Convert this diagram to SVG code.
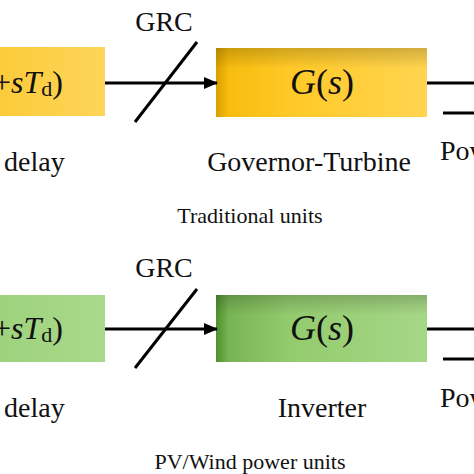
<svg xmlns="http://www.w3.org/2000/svg" width="474" height="474" viewBox="0 0 474 474">
<style>
.t{font-family:"Liberation Serif","Times New Roman",serif;fill:#111}
.ln{stroke:#000;stroke-width:3;fill:none}
</style>
<defs>
<marker id="ah" markerWidth="14" markerHeight="12" refX="13" refY="6" orient="auto" markerUnits="userSpaceOnUse">
<path d="M0,0 L14,6 L0,12 Z" fill="#000"/>
</marker>
<linearGradient id="yl" x1="0" y1="0" x2="1" y2="0">
<stop offset="0" stop-color="#FCCB3A"/><stop offset="1" stop-color="#FDD55A"/>
</linearGradient>
<linearGradient id="yr" x1="0" y1="0" x2="1" y2="0">
<stop offset="0" stop-color="#D99E00"/><stop offset="0.06" stop-color="#F7BC0E"/><stop offset="0.35" stop-color="#FFC927"/><stop offset="1" stop-color="#FFD450"/>
</linearGradient>
<linearGradient id="gl" x1="0" y1="0" x2="1" y2="0">
<stop offset="0" stop-color="#9ED27C"/><stop offset="1" stop-color="#A9D98B"/>
</linearGradient>
<linearGradient id="gr" x1="0" y1="0" x2="1" y2="0">
<stop offset="0" stop-color="#4E8F2E"/><stop offset="0.06" stop-color="#78B454"/><stop offset="0.35" stop-color="#93CB6E"/><stop offset="1" stop-color="#A6D786"/>
</linearGradient>
<linearGradient id="sh" x1="0" y1="0" x2="0" y2="1">
<stop offset="0" stop-color="#000" stop-opacity="0.18"/><stop offset="0.3" stop-color="#000" stop-opacity="0"/>
</linearGradient>
</defs>

<g id="delay-top">
<rect x="-2" y="47" width="107" height="69" fill="url(#yl)"/>
<text class="t" x="-7" y="93" font-size="32">+<tspan font-style="italic">sT</tspan><tspan font-size="22" dy="3">d</tspan><tspan dy="-3">)</tspan></text>
<text class="t" x="4" y="171" font-size="28">delay</text>
</g>
<g id="governor">
<rect x="216" y="48" width="211" height="69" fill="url(#yr)"/>
<rect x="216" y="48" width="211" height="69" fill="url(#sh)"/>
<text class="t" x="322" y="94" font-size="36" text-anchor="middle"><tspan font-style="italic">G</tspan>(<tspan font-style="italic">s</tspan>)</text>
<text class="t" x="309" y="171" font-size="28" text-anchor="middle">Governor-Turbine</text>
</g>
<g id="power-top">
<text class="t" x="440" y="160" font-size="28">Pow</text>
</g>
<text class="t" x="250" y="223" font-size="22" text-anchor="middle">Traditional units</text>

<g id="delay-bottom">
<rect x="-2" y="295" width="107" height="67" fill="url(#gl)"/>
<text class="t" x="-7" y="339" font-size="32">+<tspan font-style="italic">sT</tspan><tspan font-size="22" dy="3">d</tspan><tspan dy="-3">)</tspan></text>
<text class="t" x="4" y="417" font-size="28">delay</text>
</g>
<g id="inverter">
<rect x="216" y="295" width="211" height="67" fill="url(#gr)"/>
<rect x="216" y="295" width="211" height="67" fill="url(#sh)"/>
<text class="t" x="322" y="340" font-size="36" text-anchor="middle"><tspan font-style="italic">G</tspan>(<tspan font-style="italic">s</tspan>)</text>
<text class="t" x="322" y="417" font-size="28" text-anchor="middle">Inverter</text>
</g>
<g id="power-bottom">
<text class="t" x="440" y="407" font-size="28">Pow</text>
</g>
<text class="t" x="250" y="469" font-size="22" text-anchor="middle">PV/Wind power units</text>

<g id="connectors">
<line class="ln" x1="105" y1="83" x2="217" y2="83" marker-end="url(#ah)"/>
<line class="ln" x1="197" y1="42" x2="135" y2="122"/>
<text class="t" x="164" y="31" font-size="28" text-anchor="middle">GRC</text>
<line class="ln" x1="427" y1="83" x2="474" y2="83"/>
<line class="ln" x1="443" y1="113" x2="474" y2="113"/>

<line class="ln" x1="105" y1="329" x2="217" y2="329" marker-end="url(#ah)"/>
<line class="ln" x1="197" y1="289" x2="135" y2="368"/>
<text class="t" x="164" y="277" font-size="28" text-anchor="middle">GRC</text>
<line class="ln" x1="427" y1="329" x2="474" y2="329"/>
<line class="ln" x1="443" y1="359" x2="474" y2="359"/>
</g>
</svg>
